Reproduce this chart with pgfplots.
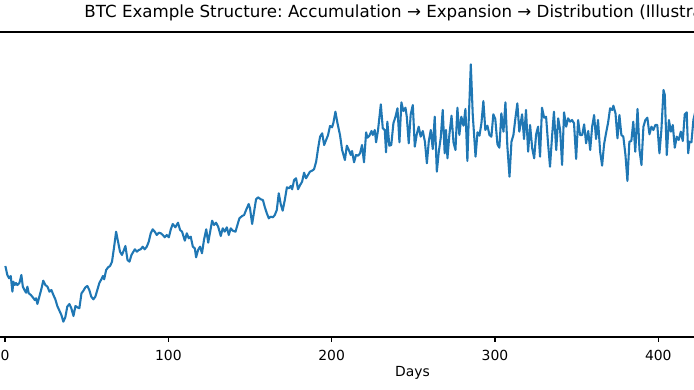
\documentclass[border=0pt]{standalone}
\usepackage{fontspec}
\setmainfont{DejaVu Sans}
\usepackage{pgfplots}
\pgfplotsset{compat=1.18}
\usepackage{pgfplotstable}
\definecolor{tabblue}{HTML}{1F77B4}
\pgfplotstableread{
day val
0.2 71
1.4 62
2.5 58.7
3.5 61
4.5 45.3
5.1 55.3
5.9 52
6.7 54
7.5 52
8.8 54
10.0 62
10.9 50.3
12.1 46.3
12.9 44.3
13.7 50.3
14.5 43.7
15.8 42
17.0 39.7
18.2 37
19.0 38.7
19.8 33
21.0 40.3
22.2 47.7
23.4 56.3
24.7 52
26.0 50.3
27.2 45.3
28.4 47
29.6 42
30.8 37.7
32.0 31
33.3 26.3
34.5 22
35.7 15.3
36.9 19.7
38.1 30.3
39.4 33
40.6 28.7
41.9 21
43.1 31
44.3 29.7
45.5 28.7
46.8 43.7
48.0 46.3
49.2 49.7
50.4 51
51.6 47
52.8 40.3
54.1 37.7
55.3 40.3
56.5 47
57.8 54.3
59.0 57.7
59.9 61
60.7 57.7
61.9 67
63.1 69.7
64.3 71
65.5 75.3
66.8 90.3
68.0 105.3
69.2 95.3
70.4 85.3
71.6 82
72.8 87
73.7 91
75.0 77
76.2 75.3
77.4 82
78.6 85.3
79.5 87.7
80.7 85.3
81.9 87
83.1 87.7
84.3 90.3
85.5 87.7
86.8 90.3
88.0 95.3
89.2 103.7
90.4 107.7
91.7 105.3
92.9 102
94.2 104.3
95.4 103.7
96.6 102
97.8 99.7
99.0 102
100.3 99.7
101.5 107.7
102.7 113
104.3 109.7
105.9 114.3
107.2 107
108.4 105.3
110.1 96.3
111.3 103.7
112.5 98.7
113.7 100.3
115.0 90.3
116.2 88.7
117.0 79.7
118.2 87
119.4 90.3
120.6 83.7
121.8 97
123.2 107.7
124.4 94.3
125.6 105.3
126.8 116.3
128.0 112
129.2 114.3
130.5 110.3
132.1 101
133.3 108.7
134.5 105.3
135.8 109.7
137.0 102
138.2 108.7
139.4 106.3
141.1 105.3
142.3 112
143.5 118.7
145.2 121
146.4 122
147.6 127
149.2 133
150.0 128.7
151.3 113
152.5 125.3
153.7 137.7
154.9 139.7
156.6 137.7
157.9 137
159.1 129.7
160.3 123.7
161.5 118.7
162.7 120.3
164.0 119.7
165.2 122
166.4 127
167.6 143.7
168.8 133
170.0 126.3
171.3 137
172.6 149.7
173.8 148.7
175.0 151
175.8 147.7
177.0 157
178.2 158.7
179.4 147.7
180.7 152
181.9 155.3
183.1 164.3
184.3 158.7
185.5 162
186.7 165.3
188.0 166.3
189.2 167.7
190.5 175.3
191.7 188.7
192.9 200.3
194.2 203.7
195.4 192
196.6 197
197.8 202
199.0 211
200.2 209.7
201.0 213.7
202.3 225.3
203.5 214.3
205.1 202
206.4 187
208.1 177
209.3 191.3
210.5 187
211.7 182
212.5 186
213.7 174.7
214.9 182
216.2 181.3
217.4 183.7
218.6 192
219.8 174.7
221.1 204.7
221.9 199.3
223.1 201.3
224.4 206
225.2 202
226.4 207
227.2 194.7
228.4 207
230.1 232.7
231.3 208.7
232.5 207
233.3 184.7
234.1 215.3
235.3 191.3
236.5 192
237.8 213.7
239.1 220.3
240.3 228.7
241.5 194.7
242.7 234.7
243.9 226
245.2 229.3
246.0 220.3
247.2 193.7
248.4 222.7
249.7 232
250.9 190.3
252.1 202.7
253.3 210.3
254.5 200.3
255.8 206
257.1 195.3
258.3 173.7
259.5 196
260.7 207
261.9 188
263.1 220.3
264.4 165.3
265.6 185.3
266.8 199.3
268.0 227
269.2 183.7
270.0 207
270.9 178.7
272.1 202.7
273.4 221.3
274.6 194.7
275.8 187
277.0 229.3
278.2 202
279.4 220.3
280.7 211.3
281.9 228
283.1 176
283.9 215.3
285.2 272.7
286.4 222
288.1 180.3
289.3 204.7
290.5 201.3
291.7 213.7
292.9 236
294.1 207
295.4 211.3
296.6 202
297.8 200.3
299.0 222.7
300.2 218
301.5 192.7
302.7 189.3
303.9 223.7
305.2 205.3
306.4 234.7
307.6 190.3
308.9 160.3
310.1 195.3
311.3 202
312.5 218.7
313.7 233.7
314.9 205.3
316.6 222.7
317.8 198
319.0 227
320.3 185.3
321.5 212
322.8 188.7
324.0 178.7
325.2 202.7
326.4 210.3
327.6 180.3
328.8 229.3
330.1 219.3
331.3 220.3
332.5 193.7
333.7 170.3
334.9 199.3
336.1 225.3
337.5 187
338.7 218.7
339.9 207
341.1 172
342.3 224.7
343.6 210.3
344.8 218.7
346.0 215.3
347.2 217
348.4 213.7
349.7 178
350.9 217
352.1 202
353.4 202
354.6 212.7
355.8 193.7
357.1 206
358.3 187
359.5 210.3
360.7 222
361.9 198
363.1 217
364.4 185.3
365.6 171.3
366.8 192.7
368.0 203.7
369.2 213.7
370.5 228.7
371.8 227
372.5 231.3
373.8 223.7
375.0 198.7
376.2 222
377.4 202
378.6 200.3
379.9 182
381.1 156
382.3 195.3
383.5 196
384.7 215.3
385.9 185.3
387.3 228
388.5 187
389.7 172
390.9 210.3
392.1 217
393.3 219.3
394.6 202.7
395.8 210.3
397.0 207
398.2 212
399.4 212
400.7 183.7
401.9 207
403.2 247
404.0 242
405.2 182
406.5 217
407.7 205.3
408.9 212
410.1 189.3
411.3 200.3
412.5 197
413.8 205.3
415.0 196
416.2 222.7
417.4 224.7
418.3 183.7
419.1 195.3
420.3 194.7
421.5 217
422.6 225
423.8 207
}\btcdata
\begin{document}
\frenchspacing
\begin{tikzpicture}
\useasboundingbox (35.7pt,-53pt) rectangle (729.7pt,337pt);
\clip (35.7pt,-53pt) rectangle (729.7pt,337pt);
\begin{axis}[
  at={(0pt,0pt)}, anchor=south west,
  scale only axis,
  width=896.4pt, height=305pt,
  xmin=-24.95, xmax=523.95,
  ymin=0, ymax=305,
  axis line style={line width=1.11pt, black},
  xtick={0,100,200,300,400},
  ytick=\empty,
  xtick pos=bottom,
  tick align=outside,
  major tick length=4.86pt,
  every tick/.style={line width=1.11pt, black},
  /pgf/number format/assume math mode=true,
  xticklabel style={font=\fontsize{13.89}{16}\selectfont, anchor=base, yshift=-18.5pt},
  xlabel={Days},
  xlabel style={font=\fontsize{13.89}{16}\selectfont, at={(rel axis cs:0.5,0)}, anchor=base, yshift=-40pt},
  title={BTC Example Structure: Accumulation → Expansion → Distribution (Illustrative)},
  title style={font=\fontsize{16.67}{20}\selectfont, at={(rel axis cs:0.5,1)}, anchor=base, yshift=8.33pt},
  clip=true,
]
\addplot[color=tabblue, line width=2.08pt, line join=round, mark=none] table[x=day, y=val] {\btcdata};
\end{axis}
\end{tikzpicture}
\end{document}
